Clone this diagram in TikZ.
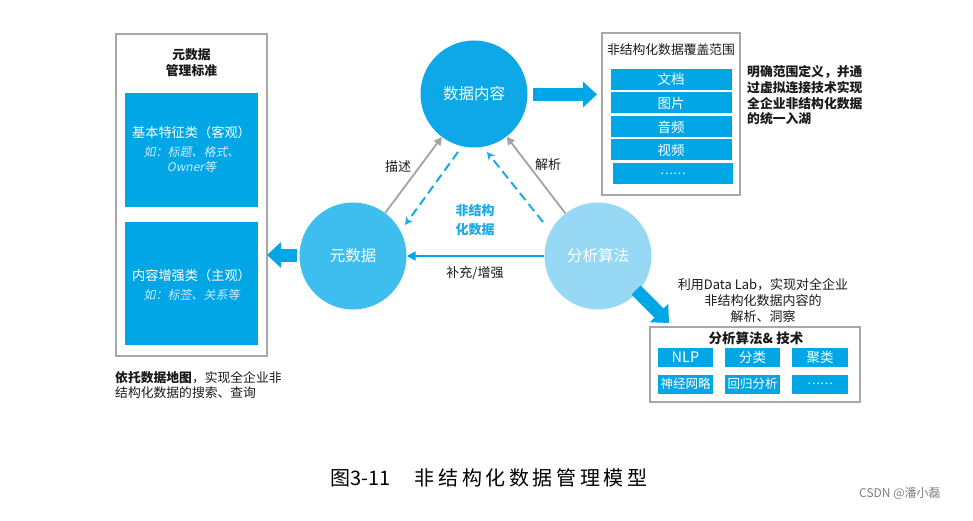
\documentclass[tikz,border=0pt]{standalone}
\usepackage{fontspec}
\setmainfont{Noto Sans CJK SC}
\newfontfamily\slfont[FakeSlant=0.2]{Noto Sans CJK SC}
\usetikzlibrary{arrows.meta,calc}
\definecolor{mblue}{HTML}{00A6E6}
\definecolor{cone}{HTML}{0EA8E8}
\definecolor{ctwo}{HTML}{3DBEEE}
\definecolor{cthree}{HTML}{97D9F5}
\definecolor{bordergray}{HTML}{A8A8A8}
\definecolor{arrgray}{HTML}{A3A3A3}
\definecolor{txtdark}{HTML}{1A1A1A}
\definecolor{paleblue}{HTML}{C8EEFF}
\definecolor{dblue}{HTML}{1DA8E6}
\tikzset{
  outerbox/.style={draw=bordergray, line width=1.2pt, fill=white, inner sep=0pt},
  bluebox/.style={fill=mblue, inner sep=0pt, text=white},
  circ/.style={circle, minimum size=107pt, inner sep=0pt, text=white, font=\fontsize{15.5}{17}\selectfont},
  txt/.style={inner sep=0pt, text=txtdark},
  grayarr/.style={draw=arrgray, line width=1.8pt, -{Triangle[length=8pt,width=8pt]}},
  dasharr/.style={draw=dblue, line width=2pt, dash pattern=on 9pt off 5pt, -{Stealth[length=8pt,width=8pt]}},
  bluearr/.style={draw=mblue, line width=2pt, -{Triangle[length=9pt,width=9pt]}},
  fatarr/.style={draw=mblue, line width=13pt, -{Triangle[length=14pt,width=25pt]}},
}
\begin{document}
\begin{tikzpicture}[x=1pt,y=-1pt]
\useasboundingbox (0,0) rectangle (973,521);
\fill[white] (0,0) rectangle (973,521);

% ---------- left box ----------
\node[outerbox, minimum width=151pt, minimum height=322pt] (lbox) at (191.5,195) {};
\node[txt, font=\fontsize{12.8}{14}\selectfont\bfseries] (lt1) at (191.5,55) {元数据};
\node[txt, font=\fontsize{12.8}{14}\selectfont\bfseries] (lt2) at (191.5,71) {管理标准};
\node[bluebox, minimum width=133pt, minimum height=114pt] (lb1) at (191.5,150) {};
\node[bluebox, minimum width=133pt, minimum height=123pt] (lb2) at (191.5,283.5) {};
\node[txt, text=white, font=\fontsize{13.2}{14}\selectfont] (lb1a) at (191.5,132) {基本特征类（客观）};
\node[txt, text=paleblue, font=\fontsize{12}{13}\slfont] (lb1b) at (191.5,152) {如：标题、格式、};
\node[txt, text=paleblue, font=\fontsize{12}{13}\slfont] (lb1c) at (191.5,167) {Owner等};
\node[txt, text=white, font=\fontsize{13.2}{14}\selectfont] (lb2a) at (191.5,275) {内容增强类（主观）};
\node[txt, text=paleblue, font=\fontsize{12}{13}\slfont] (lb2b) at (191.5,295) {如：标签、关系等};

\node[txt, anchor=west, align=left, font=\fontsize{12.8}{15}\selectfont] (ltext) at (115,385.5)
  {\textbf{依托数据地图}，实现全企业非\\结构化数据的搜索、查询};

% ---------- circles ----------
\node[circ, fill=cone] (shuju) at (474,94) {数据内容};
\node[circ, fill=ctwo] (yuan) at (353,256) {元数据};
\node[circ, fill=cthree] (fenxi) at (598,256) {分析算法};

% ---------- triangle connectors ----------
\draw[grayarr] (yuan) -- (shuju);
\draw[grayarr] (fenxi) -- (shuju);
\coordinate (d1a) at (458,152);
\coordinate (d1b) at (405,225);
\coordinate (d2a) at (543,222);
\coordinate (d2b) at (487,152);
\draw[dasharr] (d1a) -- (d1b);
\draw[dasharr] (d2a) -- (d2b);
\draw[bluearr] (fenxi) -- (yuan);

\node[txt, font=\fontsize{13}{14}\selectfont] (lmiaoshu) at (398,167) {描述};
\node[txt, font=\fontsize{13}{14}\selectfont] (ljiexi) at (548,165) {解析};
\node[txt, font=\fontsize{13}{14}\selectfont] (lbuchong) at (475,273) {补充/增强};
\node[txt, text=dblue, font=\fontsize{13}{15}\selectfont\bfseries] (lfj1) at (475,211) {非结构};
\node[txt, text=dblue, font=\fontsize{13}{15}\selectfont\bfseries] (lfj2) at (475,230) {化数据};

% ---------- fat arrows ----------
\coordinate (ra1) at (533,94.5);
\coordinate (ra2) at (597,94.5);
\draw[fatarr] (ra1) -- (ra2);
\coordinate (la1) at (297,255);
\coordinate (la2) at (267,255);
\draw[fatarr] (la1) -- (la2);
\coordinate (da1) at (636,290);
\coordinate (da2) at (669,323);
\draw[fatarr] (da1) -- (da2);

% ---------- right box ----------
\node[outerbox, minimum width=138pt, minimum height=162pt] (rbox) at (671,114) {};
\node[txt, font=\fontsize{12.8}{14}\selectfont] (rt) at (671,50) {非结构化数据覆盖范围};
\node[bluebox, minimum width=121pt, minimum height=21pt, font=\fontsize{13.5}{15}\selectfont] (rb1) at (671,79.5) {文档};
\node[bluebox, minimum width=121pt, minimum height=21pt, font=\fontsize{13.5}{15}\selectfont] (rb2) at (671,103) {图片};
\node[bluebox, minimum width=121pt, minimum height=21pt, font=\fontsize{13.5}{15}\selectfont] (rb3) at (671,127) {音频};
\node[bluebox, minimum width=121pt, minimum height=21pt, font=\fontsize{13.5}{15}\selectfont] (rb4) at (671,150) {视频};
\node[bluebox, minimum width=120pt, minimum height=21pt, font=\fontsize{12}{13}\selectfont] (rb5) at (673,173.5) {……};

\node[txt, anchor=west, align=left, font=\fontsize{12.8}{15.6}\selectfont\bfseries] (rtext) at (747,95.5)
  {明确范围定义，并通\\过虚拟连接技术实现\\全企业非结构化数据\\的统一入湖};

% ---------- bottom right ----------
\node[txt, align=center, font=\fontsize{13}{16}\selectfont] (brtext) at (763,301)
  {利用Data Lab，实现对全企业\\非结构化数据内容的\\解析、洞察};
\node[outerbox, minimum width=210pt, minimum height=75pt] (brbox) at (755,364.5) {};
\node[txt, font=\fontsize{13.5}{15}\selectfont\bfseries] (brt) at (756,338) {分析算法\&~技术};
\node[bluebox, minimum width=55pt, minimum height=19pt, font=\fontsize{14.5}{16}\selectfont] (k1) at (685.5,357.5) {NLP};
\node[bluebox, minimum width=55pt, minimum height=19pt, font=\fontsize{13.5}{15}\selectfont] (k2) at (752.5,357.5) {分类};
\node[bluebox, minimum width=56pt, minimum height=19pt, font=\fontsize{13.5}{15}\selectfont] (k3) at (820,357.5) {聚类};
\node[bluebox, minimum width=55pt, minimum height=19pt, font=\fontsize{12.5}{14}\selectfont] (k4) at (685.5,384) {神经网略};
\node[bluebox, minimum width=55pt, minimum height=19pt, font=\fontsize{12.5}{14}\selectfont] (k5) at (752.5,384) {回归分析};
\node[bluebox, minimum width=56pt, minimum height=19pt, font=\fontsize{12}{13}\selectfont] (k6) at (820,384) {……};

% ---------- caption & watermark ----------
\node[txt, text=black, font=\fontsize{20}{22}\selectfont] (cap) at (489,478)
  {图3-11\hspace{24pt}{\addfontfeature{LetterSpace=18}非结构化数据管理模型}};
\node[txt, anchor=west, text=gray, font=\fontsize{12}{14}\selectfont] (wm) at (859,493) {CSDN @潘小磊};
\end{tikzpicture}
\end{document}
